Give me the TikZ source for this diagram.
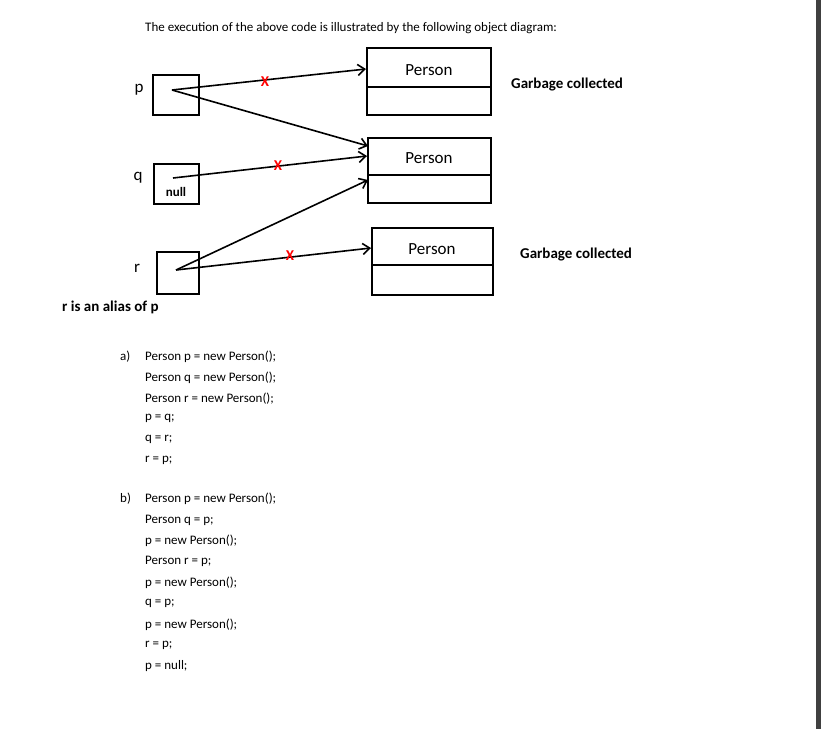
\documentclass[tikz,border=0pt]{standalone}
\usepackage{fontspec}
\setmainfont{Carlito}
\usetikzlibrary{arrows.meta}
\begin{document}
\begin{tikzpicture}[x=1pt,y=-1pt,
  var/.style={draw,line width=1.6pt,inner sep=0pt},
  obj/.style={draw,line width=1.6pt,inner sep=0pt},
  ref/.style={line width=1.6pt,-{Straight Barb[length=7pt,width=11pt]}},
  lbl/.style={font=\fontsize{17}{17}\selectfont,inner sep=0pt},
  gc/.style={font=\fontsize{15}{15}\selectfont\bfseries,anchor=west,inner sep=0pt},
  cut/.style={text=red,font=\fontsize{15}{15}\selectfont\bfseries,inner sep=0pt},
  code/.style={font=\fontsize{13}{13}\selectfont,anchor=west,inner sep=0pt}]
\useasboundingbox (0,0) rectangle (821,729);
\fill[white] (0,0) rectangle (821,729);
\fill[black!75] (816,0) rectangle (821,729);
\node[code] (title) at (145,28) {The execution of the above code is illustrated by the following object diagram:};
% variable boxes
\draw[var] (153,75) rectangle (199,115);
\draw[var] (154,164) rectangle (199,204);
\draw[var] (157,252) rectangle (199,294);
\node[lbl] (lp) at (139,90) {p};
\node[lbl] (lq) at (138,178) {q};
\node[lbl] (lr) at (137,268) {r};
\node[font=\fontsize{13}{13}\selectfont\bfseries,inner sep=0pt] (nul) at (176,192) {null};
\coordinate (p) at (172,90);
\coordinate (q) at (173,178);
\coordinate (r) at (176,270);
% objects
\draw[obj] (367,48) rectangle (491,115); \draw[obj] (367,87) -- (491,87);
\draw[obj] (368,138) rectangle (491,203); \draw[obj] (368,175) -- (491,175);
\draw[obj] (372,228) rectangle (493,295); \draw[obj] (372,265) -- (493,265);
\node[lbl] (o1) at (429,70) {Person};
\node[lbl] (o2) at (429,158) {Person};
\node[lbl] (o3) at (432,249) {Person};
\coordinate (a1) at (366,69);
\coordinate (a2) at (368,146);
\coordinate (a3) at (367,156);
\coordinate (a4) at (368,180);
\coordinate (a5) at (371,248);
\draw[ref] (p) -- (a1);
\draw[ref] (p) -- (a2);
\draw[ref] (q) -- (a3);
\draw[ref] (r) -- (a4);
\draw[ref] (r) -- (a5);
\node[cut] (x1) at (265,82) {X};
\node[cut] (x2) at (278,166) {X};
\node[cut] (x3) at (290,256) {X};
\node[gc] (g1) at (511,85) {Garbage collected};
\node[gc] (g3) at (520,255) {Garbage collected};
\node[gc] (alias) at (62,307) {r is an alias of p};
% code
\node[code] (ca) at (120,357) {a)};
\foreach \t [count=\i from 0] in {Person p = new Person();,Person q = new Person();,Person r = new Person();,p = q;,q = r;,r = p;}
  \node[code] (a\i) at (145,357+20.6*\i) {\t};
\node[code] (cb) at (120,499) {b)};
\foreach \t [count=\i from 0] in {Person p = new Person();,Person q = p;,p = new Person();,Person r = p;,p = new Person();,q = p;,p = new Person();,r = p;,p = null;}
  \node[code] (b\i) at (145,499+20.9*\i) {\t};
\end{tikzpicture}
\end{document}
